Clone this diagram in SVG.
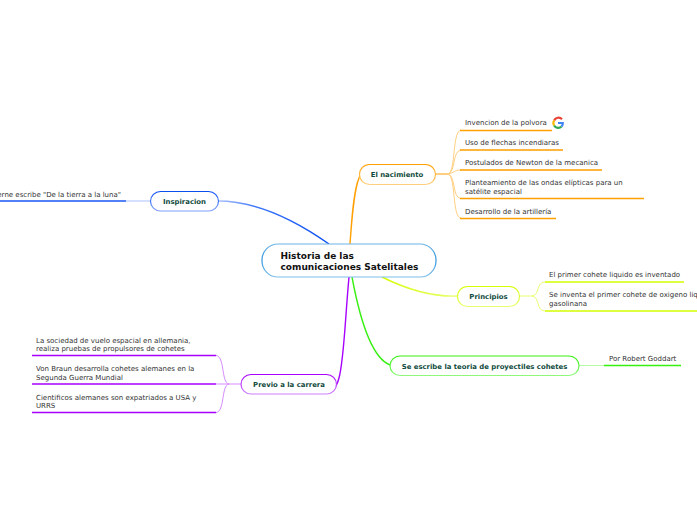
<svg xmlns="http://www.w3.org/2000/svg" width="697" height="520" viewBox="0 0 697 520">
<defs>
<style>
text{font-family:"DejaVu Sans",Verdana,sans-serif}
.t{font-size:7px;fill:#333}
.n{font-size:6.9px;font-weight:700;fill:#0f4a3c;text-anchor:middle}
.r{font-size:9px;font-weight:700;fill:#111}
.c{fill:none;stroke-width:1}
.b{fill:none;stroke-width:1.4}
.u{stroke-width:1.5;fill:none}
.box{fill:#fff;stroke-width:1.2}
.or{stroke:#ff9f00}.orl{stroke:#ffcf80}
.yl{stroke:#d4ff00}.yll{stroke:#e6ff70}
.gr{stroke:#36f010}.grl{stroke:#b5fba8}
.pu{stroke:#a800ff}.pul{stroke:#d58cff}
.bl{stroke:#1a56f5}.bll{stroke:#a9c1fb}
</style>
<linearGradient id="gRoot" x1="0" y1="0" x2="0" y2="1"><stop offset="0" stop-color="#6db5e6"/><stop offset=".5" stop-color="#2f94dc"/><stop offset="1" stop-color="#7fbfea"/></linearGradient>
<linearGradient id="gO" x1="0" y1="0" x2="0" y2="1"><stop offset="0" stop-color="#ff9f00"/><stop offset="1" stop-color="#ffcf80"/></linearGradient>
<linearGradient id="gY" x1="0" y1="0" x2="0" y2="1"><stop offset="0" stop-color="#d4ff00"/><stop offset="1" stop-color="#e6ff70"/></linearGradient>
<linearGradient id="gG" x1="0" y1="0" x2="0" y2="1"><stop offset="0" stop-color="#36f010"/><stop offset="1" stop-color="#8ff87a"/></linearGradient>
<linearGradient id="gP" x1="0" y1="0" x2="0" y2="1"><stop offset="0" stop-color="#a800ff"/><stop offset="1" stop-color="#cf80ff"/></linearGradient>
<linearGradient id="gB" x1="0" y1="0" x2="0" y2="1"><stop offset="0" stop-color="#0a4df0"/><stop offset="1" stop-color="#7fa2fa"/></linearGradient>
<linearGradient id="lY" gradientUnits="userSpaceOnUse" x1="382" y1="277" x2="458" y2="296"><stop offset="0" stop-color="#d4ff00"/><stop offset="1" stop-color="#e6ff70"/></linearGradient>
<linearGradient id="lB" gradientUnits="userSpaceOnUse" x1="329" y1="244" x2="218" y2="201"><stop offset="0" stop-color="#0a4df0"/><stop offset=".7" stop-color="#3f78fb"/><stop offset="1" stop-color="#a9c1fb"/></linearGradient>
</defs>
<g id="connectors">
<path class="b or" d="M350 244C352 215 354 190 359 178C360 175 362 172 366 170"/>
<path class="b" stroke="url(#lB)" d="M329 244C295 220 255 201 218 201"/>
<path class="b" stroke="url(#lY)" d="M382 277C410 291 435 297 458 296"/>
<path class="b gr" d="M352 277C360 320 372 358 390 365"/>
<path class="b pu" d="M349 277C345 320 344 360 339 378C338 382 337 384 336 386"/>
<path class="c or" d="M435 174H448"/>
<path class="c orl" d="M448 174C456 172 452 131 461 130M448 174C456 172 452 151 461 150M448 174C454 173 454 170 461 170M448 174C456 176 452 198 461 198.500M448 174C456 176 452 218 461 218"/>
<path class="c yll" d="M519 296H532"/>
<path class="c yll" d="M532 296C540 295 536 282 545 282M532 296C540 297 536 311 545 311"/>
<path class="c grl" d="M579 365.500H604"/>
<path class="c pul" d="M241 384H229M229 384C221 383 225 356 216 355.500M229 384H216M229 384C221 385 225 412 216 412.500"/>
<path class="c bll" d="M151 201H126"/>
<path class="u or" d="M460 130.500H552M460 150H563M460 170H602M460 198.500H644M460 218.500H556"/>
<path class="u yl" d="M545 282H684M545 311H697"/>
<path class="u gr" d="M604 365.500H681"/>
<path class="u pu" d="M32 355.500H216M32 384H216M32 412.500H216"/>
<path class="u bl" d="M0 201H126"/>
</g>
<g id="root"><rect class="box" x="262" y="244" width="174" height="33" rx="16" stroke="url(#gRoot)" stroke-width="1.300"/><text class="r" x="280.500" y="259">Historia de las</text><text class="r" x="280.500" y="270">comunicaciones Satelitales</text></g>
<g id="n-nacimiento"><rect class="box" x="359.500" y="164.500" width="76" height="20" rx="10" stroke="url(#gO)"/><text class="n" x="397" y="177">El nacimiento</text></g>
<g id="n-principios"><rect class="box" x="457.500" y="286.500" width="62" height="20" rx="10" stroke="url(#gY)"/><text class="n" x="488.500" y="299">Principios</text></g>
<g id="n-teoria"><rect class="box" x="390" y="356" width="189" height="19.500" rx="10" stroke="url(#gG)"/><text class="n" x="484.500" y="368.500">Se escribe la teoria de proyectiles cohetes</text></g>
<g id="n-previo"><rect class="box" x="241" y="374.500" width="95.500" height="19.500" rx="10" stroke="url(#gP)"/><text class="n" x="289" y="387">Previo a la carrera</text></g>
<g id="n-inspiracion"><rect class="box" x="150.500" y="191.500" width="68" height="19.500" rx="10" stroke="url(#gB)"/><text class="n" x="184.500" y="204">Inspiracion</text></g>
<g id="t-polvora"><text class="t" x="465" y="125">Invencion de la polvora</text></g>
<g id="google-icon" fill="none" stroke-width="2.200"><path d="M562 119.300A4.800 4.800 0 0 0 554.100 120.500" stroke="#ea4335"/><path d="M554.100 120.500A4.800 4.800 0 0 0 554.100 125.500" stroke="#fbbc05"/><path d="M554.100 125.500A4.800 4.800 0 0 0 561.600 126.500" stroke="#34a853"/><path d="M561.600 126.500A4.800 4.800 0 0 0 562.800 123H558" stroke="#4285f4"/></g>
<g id="t-flechas"><text class="t" x="465" y="145">Uso de flechas incendiaras</text></g>
<g id="t-newton"><text class="t" x="465" y="165">Postulados de Newton de la mecanica</text></g>
<g id="t-ondas"><text class="t" x="465" y="185">Planteamiento de las ondas elípticas para un</text><text class="t" x="465" y="194">satélite espacial</text></g>
<g id="t-artilleria"><text class="t" x="465" y="214">Desarrollo de la artillería</text></g>
<g id="t-liquido"><text class="t" x="549" y="277">El primer cohete liquido es inventado</text></g>
<g id="t-oxigeno"><text class="t" x="549" y="297">Se inventa el primer cohete de oxigeno liquido y</text><text class="t" x="549" y="306">gasolinana</text></g>
<g id="t-goddart"><text class="t" x="609" y="361">Por Robert Goddart</text></g>
<g id="t-sociedad"><text class="t" x="36" y="343">La sociedad de vuelo espacial en allemania,</text><text class="t" x="36" y="351">realiza pruebas de propulsores de cohetes</text></g>
<g id="t-braun"><text class="t" x="36" y="371">Von Braun desarrolla cohetes alemanes en la</text><text class="t" x="36" y="380">Segunda Guerra Mundial</text></g>
<g id="t-cientificos"><text class="t" x="36" y="400">Cientificos alemanes son expatriados a USA y</text><text class="t" x="36" y="408">URRS</text></g>
<g id="t-verne"><text class="t" x="121" y="197" text-anchor="end">Julio Verne escribe "De la tierra a la luna"</text></g>
</svg>
